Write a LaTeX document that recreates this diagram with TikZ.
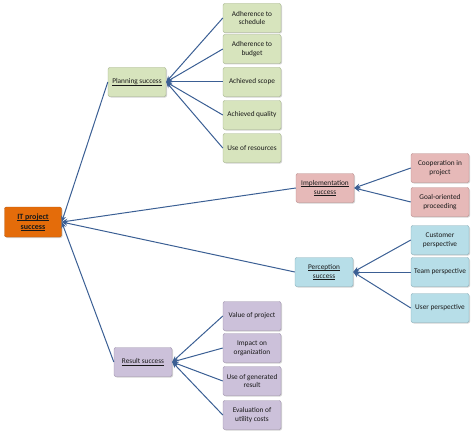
\documentclass[tikz,border=0pt]{standalone}
\usepackage{fontspec}
\setmainfont{Carlito}
\usetikzlibrary{arrows.meta,shadows}
\newcommand\uln[1]{\leavevmode\setbox0\hbox{#1}\rlap{\rule[-1.1pt]{\wd0}{0.5pt}}\box0}
\definecolor{linkblue}{HTML}{3B5F94}
\definecolor{orangefill}{HTML}{E46C0A}
\definecolor{orangeline}{HTML}{B65A12}
\definecolor{greenfill}{HTML}{D7E4BD}
\definecolor{greenline}{HTML}{A3B38A}
\definecolor{redfill}{HTML}{E6B9B8}
\definecolor{redline}{HTML}{B98A89}
\definecolor{bluefill}{HTML}{B7DEE8}
\definecolor{blueline}{HTML}{86AEB8}
\definecolor{lilacfill}{HTML}{CCC1DA}
\definecolor{lilacline}{HTML}{9C90AA}
\tikzset{
  box/.style={draw,rounded corners=2pt,minimum width=58pt,minimum height=29pt,
    inner sep=1pt,align=center,font=\fontsize{7.3}{8.8}\selectfont,text=black!90,
    drop shadow={shadow xshift=1pt,shadow yshift=-1pt,opacity=.35}},
  plan/.style={box,fill=greenfill,draw=greenline},
  impl/.style={box,fill=redfill,draw=redline},
  perc/.style={box,fill=bluefill,draw=blueline},
  res/.style={box,fill=lilacfill,draw=lilacline},
  link/.style={draw=linkblue,line width=1pt,-{Stealth[length=6pt,width=5pt]}}
}
\begin{document}
\begin{tikzpicture}[x=1pt,y=-1pt]
\useasboundingbox (0,0) rectangle (474,436);
% root
\node[box,fill=orangefill,draw=orangeline,minimum width=57pt,minimum height=30pt,
  font=\fontsize{8}{9.5}\selectfont\bfseries] (it) at (33,222) {\uln{IT project}\\\uln{success}};
% planning
\node[plan] (planning) at (137,82) {\uln{Planning success}};
\node[plan] (sched) at (252,18) {Adherence to\\schedule};
\node[plan] (budget) at (252,49) {Adherence to\\budget};
\node[plan] (scope) at (252,82) {Achieved scope};
\node[plan] (quality) at (252,115) {Achieved quality};
\node[plan] (resources) at (252,148) {Use of resources};
% implementation
\node[impl] (implem) at (325,188) {\uln{Implementation}\\\uln{success}};
\node[impl] (coop) at (440,168) {Cooperation in\\project};
\node[impl] (goal) at (440,202) {Goal-oriented\\proceeding};
% perception
\node[perc] (percep) at (324,272) {\uln{Perception}\\\uln{success}};
\node[perc] (customer) at (440,240) {Customer\\perspective};
\node[perc] (team) at (440,272) {Team perspective};
\node[perc] (user) at (440,308) {User perspective};
% result
\node[res] (result) at (143,362) {\uln{Result success}};
\node[res] (value) at (252,316) {Value of project};
\node[res] (impact) at (252,348) {Impact on\\organization};
\node[res] (generated) at (252,381) {Use of generated\\result};
\node[res] (utility) at (252,415) {Evaluation of\\utility costs};
% connectors
\foreach \c in {sched,budget,scope,quality,resources}
  \draw[link] (\c.west) -- (planning.east);
\foreach \c in {coop,goal}
  \draw[link] (\c.west) -- (implem.east);
\foreach \c in {customer,team,user}
  \draw[link] (\c.west) -- (percep.east);
\foreach \c in {value,impact,generated,utility}
  \draw[link] (\c.west) -- (result.east);
\foreach \c in {planning,implem,percep,result}
  \draw[link] (\c.west) -- (it.east);
\end{tikzpicture}
\end{document}
